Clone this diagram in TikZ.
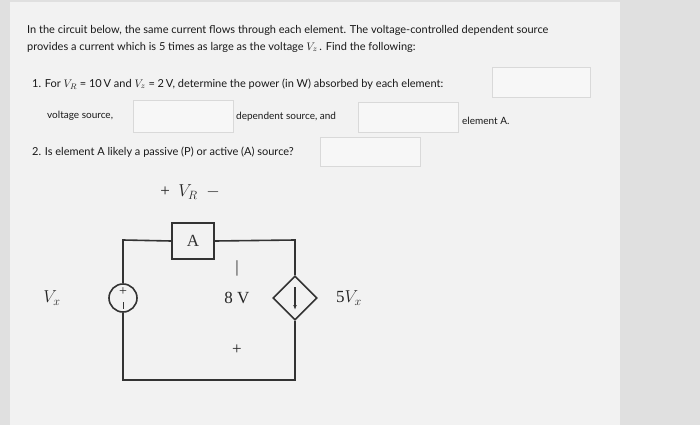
\documentclass[tikz,border=0pt]{standalone}
\usepackage{fontspec}
\usetikzlibrary{shapes.geometric,arrows.meta}
\setmainfont{Lato}
\newfontfamily\ser{Liberation Serif}
\begin{document}
\begin{tikzpicture}[x=1pt,y=-1pt,
  ans/.style={draw=black!15,fill=black!3},
  txt/.style={anchor=west,inner sep=0pt,font=\fontsize{11}{13}\selectfont,text=black!90},
  wire/.style={line width=1.6pt,black!80},
  lab/.style={font=\ser\fontsize{17}{19}\selectfont,text=black!85}]
\useasboundingbox (0,0) rectangle (700,425);
\fill[black!12] (0,0) rectangle (700,425);
\fill[black!5] (10,2) rectangle (620,425);
\node[txt] (t1) at (27,30) {In the circuit below, the same current flows through each element. The voltage-controlled dependent source};
\node[txt] (t2) at (27,47) {provides a current which is 5 times as large as the voltage $V_z$\,. Find the following:};
\node[txt] (q1) at (32,84) {1. For $V_R$ = 10\,V and $V_z$ = 2\,V, determine the power (in W) absorbed by each element:};
\node[ans] (b1) at (541,82) [minimum width=98pt,minimum height=30pt] {};
\node[txt,font=\fontsize{10}{12}\selectfont] (vs) at (47,116) {voltage source,};
\node[ans] (b2) at (183,116) [minimum width=100pt,minimum height=32pt] {};
\node[txt,font=\fontsize{10}{12}\selectfont] (ds) at (236,117) {dependent source, and};
\node[ans] (b3) at (408,117) [minimum width=100pt,minimum height=30pt] {};
\node[txt,font=\fontsize{10}{12}\selectfont] (ea) at (462,121) {element A.};
\node[txt] (q2) at (32,152) {2. Is element A likely a passive (P) or active (A) source?};
\node[ans] (b4) at (370,152) [minimum width=100pt,minimum height=29pt] {};
% circuit
\coordinate (tl) at (123,240); \coordinate (tr) at (295,240);
\coordinate (bl) at (123,380); \coordinate (br) at (295,380);
\node[draw,line width=1.6pt,black!80,fill=black!5,minimum width=42pt,minimum height=36pt] (A) at (193,241) {\ser\fontsize{17}{19}\selectfont A};
\node[draw,line width=1.6pt,black!80,circle,minimum size=28pt] (V) at (123,298) {};
\node[draw,line width=1.6pt,black!80,diamond,minimum size=44pt,inner sep=0pt] (D) at (295,298) {};
\draw[wire] (V.north) -- (tl) -- (A.west);
\draw[wire] (A.east) -- (tr) -- (D.north);
\draw[wire] (V.south) -- (bl) -- (br) -- (D.south);
\draw[line width=1.2pt,black!80,-{Latex[length=5pt]}] (295,287) -- (295,310);
\node[lab,font=\ser\fontsize{14}{15}\selectfont] (vp) at (123,292) {+};
\draw[line width=1pt,black!80] (123,302) -- (123,309);
\node[lab] (vr) at (190,192) {+\ \ $V_R$\ \ $-$};
\node[lab] (vx) at (52,298) {$V_x$};
\node[lab] (m8) at (237,268) {|};
\node[lab] (e8) at (237,298) {8 V};
\node[lab] (p8) at (237,350) {+};
\node[lab] (d5) at (349,298) {5$V_x$};
\end{tikzpicture}
\end{document}
